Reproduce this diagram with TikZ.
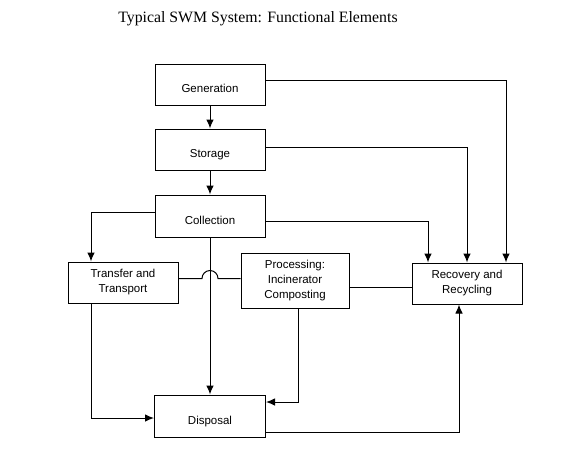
\documentclass[tikz,border=0pt]{standalone}
\usepackage{fontspec}
\setmainfont{Liberation Serif}
\newfontfamily\boxfont{Liberation Sans}
\usetikzlibrary{arrows.meta}

\begin{document}
\begin{tikzpicture}[x=1pt,y=-1pt,line width=1pt,>={Latex[length=9pt,width=7.5pt]}]
	\tikzstyle{element}=[draw=black,rectangle,align=center,minimum width=110pt,minimum height=41pt,inner sep=0pt,font=\boxfont\fontsize{11.5}{15}\selectfont]
	\tikzstyle{oneline}=[text height=19pt,text depth=2.5pt]
	\useasboundingbox (0,0) rectangle (571,451);
	\node[font=\fontsize{15.8}{18}\selectfont](title) at (258,19) {Typical SWM System: Functional Elements};
	\node[element,oneline](gen) at (210,84.5) {Generation};
	\node[element,oneline](stor) at (210,149.5) {Storage};
	\node[element,oneline,minimum height=42pt](coll) at (210,216) {Collection};
	\node[element](trans) at (123,282.5) {Transfer and\\Transport};
	\node[element,minimum width=108pt,minimum height=55pt](proc) at (295,280.5) {Processing:\\Incinerator\\Composting};
	\node[element](recov) at (467,283.5) {Recovery and\\Recycling};
	\node[element,oneline,minimum width=111pt,minimum height=42pt](disp) at (210,416) {Disposal};
	% main chain
	\draw[->](gen) -- (stor);
	\draw[->](stor) -- (coll);
	\draw[->](coll) -- (disp);
	% to recovery
	\draw[->]([yshift=4.5pt]gen.east) -| ([xshift=39pt]recov.north);
	\draw[->]([yshift=2.5pt]stor.east) -| (recov.north);
	\draw[->]([yshift=-5pt]coll.east) -| ([xshift=-39pt]recov.north);
	\draw[->]([yshift=4pt]coll.west) -| ([xshift=-32pt]trans.north);
	% transfer to processing, hopping over the collection line
	\draw([yshift=4pt]trans.east) -- ([xshift=-8pt,yshift=4pt]coll.south |- trans.east) arc[start angle=180,end angle=0,radius=8pt] -- ([yshift=4pt]proc.west |- trans.east);
	\draw([yshift=-3.5pt]recov.west) -- ([yshift=-3.5pt]recov.west -| proc.east);
	% to disposal
	\draw[->]([xshift=-32pt]trans.south) |- ([yshift=-2pt]disp.west);
	\draw[->]([xshift=3pt]proc.south) |- ([yshift=14pt]disp.east);
	\draw[->]([yshift=-16pt]disp.east) -| ([xshift=-8pt]recov.south);
\end{tikzpicture}
\end{document}
